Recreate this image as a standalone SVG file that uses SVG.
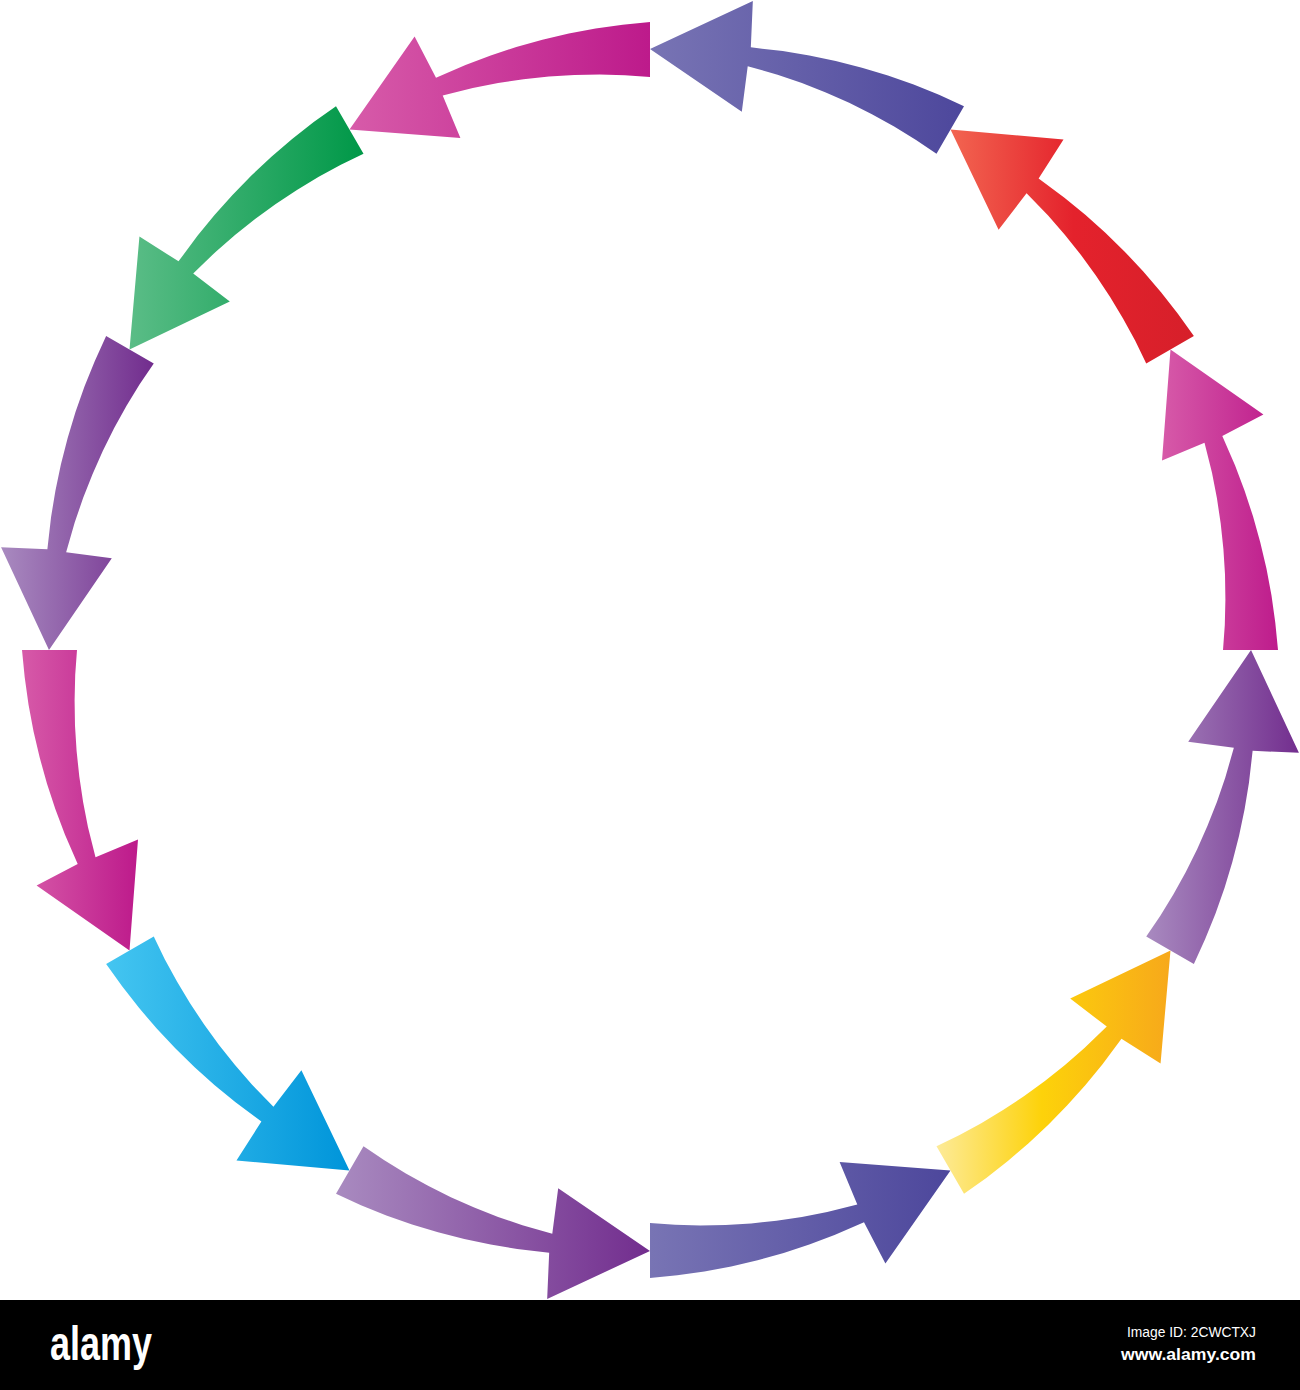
<svg xmlns="http://www.w3.org/2000/svg" xmlns:xlink="http://www.w3.org/1999/xlink" width="1300" height="1390" viewBox="0 0 1300 1390">
<style>
.wm{fill:#ffffff;font-family:"Liberation Sans","DejaVu Sans",sans-serif}
</style>
<defs>
<path id="arrow" d="M650,1223 L675.1,1224.8 L700.3,1225.4 L725.7,1225.0 L751.1,1223.4 L776.5,1220.7 L801.9,1216.9 L827.2,1212.0 L857.3,1204.5 L839.6,1162 L950.5,1170.5 L885.4,1263.4 L864,1222.3 L834.5,1235.1 L809.3,1244.6 L783.7,1253.0 L757.6,1260.3 L731.2,1266.5 L704.4,1271.5 L677.3,1275.3 L650,1278 Z"/>
<linearGradient id="g0" gradientUnits="userSpaceOnUse" x1="650" y1="0" x2="950" y2="0" gradientTransform="rotate(0 650 650)"><stop offset="0" stop-color="#7874b4"/><stop offset="1" stop-color="#4d479c"/></linearGradient>
<linearGradient id="g1" gradientUnits="userSpaceOnUse" x1="935" y1="0" x2="1172" y2="0" gradientTransform="rotate(30 650 650)"><stop offset="0" stop-color="#fdeb9a"/><stop offset="0.45" stop-color="#fdd20a"/><stop offset="1" stop-color="#f7a81b"/></linearGradient>
<linearGradient id="g2" gradientUnits="userSpaceOnUse" x1="1145" y1="0" x2="1300" y2="0" gradientTransform="rotate(60 650 650)"><stop offset="0" stop-color="#a98bc0"/><stop offset="1" stop-color="#722d8e"/></linearGradient>
<linearGradient id="g3" gradientUnits="userSpaceOnUse" x1="1160" y1="0" x2="1282" y2="0" gradientTransform="rotate(90 650 650)"><stop offset="0" stop-color="#d75ba9"/><stop offset="1" stop-color="#bd1a8b"/></linearGradient>
<linearGradient id="g4" gradientUnits="userSpaceOnUse" x1="952" y1="0" x2="1195" y2="0" gradientTransform="rotate(120 650 650)"><stop offset="0" stop-color="#f26450"/><stop offset="0.5" stop-color="#e4222c"/><stop offset="1" stop-color="#d61f2a"/></linearGradient>
<linearGradient id="g5" gradientUnits="userSpaceOnUse" x1="650" y1="0" x2="965" y2="0" gradientTransform="rotate(150 650 650)"><stop offset="0" stop-color="#7874b4"/><stop offset="1" stop-color="#4d479c"/></linearGradient>
<linearGradient id="g6" gradientUnits="userSpaceOnUse" x1="350" y1="0" x2="650" y2="0" gradientTransform="rotate(180 650 650)"><stop offset="0" stop-color="#d75ba9"/><stop offset="1" stop-color="#bd1a8b"/></linearGradient>
<linearGradient id="g7" gradientUnits="userSpaceOnUse" x1="128" y1="0" x2="362" y2="0" gradientTransform="rotate(210 650 650)"><stop offset="0" stop-color="#5bbd87"/><stop offset="1" stop-color="#009848"/></linearGradient>
<linearGradient id="g8" gradientUnits="userSpaceOnUse" x1="0" y1="0" x2="152" y2="0" gradientTransform="rotate(240 650 650)"><stop offset="0" stop-color="#a98bc0"/><stop offset="1" stop-color="#722d8e"/></linearGradient>
<linearGradient id="g9" gradientUnits="userSpaceOnUse" x1="20" y1="0" x2="138" y2="0" gradientTransform="rotate(270 650 650)"><stop offset="0" stop-color="#d75ba9"/><stop offset="1" stop-color="#bd1a8b"/></linearGradient>
<linearGradient id="g10" gradientUnits="userSpaceOnUse" x1="103" y1="0" x2="348" y2="0" gradientTransform="rotate(300 650 650)"><stop offset="0" stop-color="#45c6f1"/><stop offset="1" stop-color="#0095da"/></linearGradient>
<linearGradient id="g11" gradientUnits="userSpaceOnUse" x1="335" y1="0" x2="650" y2="0" gradientTransform="rotate(330 650 650)"><stop offset="0" stop-color="#a98bc0"/><stop offset="1" stop-color="#722d8e"/></linearGradient>
</defs>
<rect x="0" y="0" width="1300" height="1390" fill="#ffffff"/>
<g id="arrow-bottom-right"><use xlink:href="#arrow" href="#arrow" fill="url(#g0)"/></g>
<g id="arrow-lower-right"><use xlink:href="#arrow" href="#arrow" fill="url(#g1)" transform="rotate(-30 650 650)"/></g>
<g id="arrow-right-lower"><use xlink:href="#arrow" href="#arrow" fill="url(#g2)" transform="rotate(-60 650 650)"/></g>
<g id="arrow-right-upper"><use xlink:href="#arrow" href="#arrow" fill="url(#g3)" transform="rotate(-90 650 650)"/></g>
<g id="arrow-upper-right"><use xlink:href="#arrow" href="#arrow" fill="url(#g4)" transform="rotate(-120 650 650)"/></g>
<g id="arrow-top-right"><use xlink:href="#arrow" href="#arrow" fill="url(#g5)" transform="rotate(-150 650 650)"/></g>
<g id="arrow-top-left"><use xlink:href="#arrow" href="#arrow" fill="url(#g6)" transform="rotate(-180 650 650)"/></g>
<g id="arrow-upper-left"><use xlink:href="#arrow" href="#arrow" fill="url(#g7)" transform="rotate(-210 650 650)"/></g>
<g id="arrow-left-upper"><use xlink:href="#arrow" href="#arrow" fill="url(#g8)" transform="rotate(-240 650 650)"/></g>
<g id="arrow-left-lower"><use xlink:href="#arrow" href="#arrow" fill="url(#g9)" transform="rotate(-270 650 650)"/></g>
<g id="arrow-lower-left"><use xlink:href="#arrow" href="#arrow" fill="url(#g10)" transform="rotate(-300 650 650)"/></g>
<g id="arrow-bottom-left"><use xlink:href="#arrow" href="#arrow" fill="url(#g11)" transform="rotate(-330 650 650)"/></g>
<g id="connectors"></g>
<g id="footer">
<rect x="0" y="1300" width="1300" height="90" fill="#000000"/>
<text class="wm" x="50" y="1360" font-size="48" font-weight="bold" textLength="102" lengthAdjust="spacingAndGlyphs">alamy</text>
<text class="wm" x="1127" y="1337" font-size="14" textLength="129" lengthAdjust="spacingAndGlyphs">Image ID: 2CWCTXJ</text>
<text class="wm" x="1121" y="1360" font-size="17" font-weight="bold" textLength="135" lengthAdjust="spacingAndGlyphs">www.alamy.com</text>
</g>
</svg>
